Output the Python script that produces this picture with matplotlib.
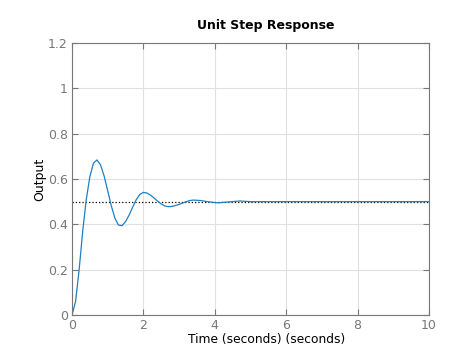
import matplotlib
matplotlib.use("Agg")
import matplotlib.pyplot as plt

# step response
time = [0, 0.1, 0.2, 0.3, 0.4, 0.5, 0.6, 0.7, 0.8, 0.9, 1.0, 1.1, 1.2, 1.3, 1.4,
        1.5, 1.6, 1.7, 1.8, 1.9, 2.0, 2.1, 2.2, 2.3, 2.4, 2.5, 2.6, 2.7, 2.8, 2.9,
        3.0, 3.1, 3.2, 3.3, 3.4, 3.6, 3.8, 4.0, 4.1, 4.4, 4.7, 5.0, 6.0, 7.0, 8.0,
        9.0, 10.0]
output = [0, 0.06, 0.2, 0.37, 0.51, 0.61, 0.67, 0.684, 0.662, 0.613, 0.548, 0.482,
          0.428, 0.397, 0.394, 0.412, 0.441, 0.476, 0.509, 0.532, 0.541, 0.538,
          0.529, 0.516, 0.502, 0.490, 0.481, 0.478, 0.479, 0.483, 0.488, 0.494,
          0.500, 0.505, 0.507, 0.505, 0.500, 0.496, 0.495, 0.499, 0.503, 0.500,
          0.500, 0.500, 0.500, 0.500, 0.500]
final_value = 0.5

fig = plt.figure(figsize=(4.74, 3.55), dpi=100)
ax = fig.add_axes([72 / 474, 40 / 355, 357 / 474, 272 / 355])

ax.plot([0, 10], [final_value, final_value], color="black", linestyle=":", linewidth=0.9)
ax.plot(time, output, color="#1f7fc4", linewidth=0.9)

ax.set_xlim(0, 10)
ax.set_ylim(0, 1.2)
ax.set_xticks([0, 2, 4, 6, 8, 10])
ax.set_yticks([0, 0.2, 0.4, 0.6, 0.8, 1, 1.2])
ax.set_yticklabels(["0", "0.2", "0.4", "0.6", "0.8", "1", "1.2"])
ax.grid(True, color="#e0e0e0", linewidth=0.8)
ax.set_axisbelow(True)
ax.tick_params(direction="in", top=True, right=True, length=4, pad=3,
               colors="#777777", labelsize=9, labelcolor="#777777")
for s in ax.spines.values():
    s.set_color("#777777")
    s.set_linewidth(0.8)

fig.text(266 / 474, 1 - 25 / 355, "Unit Step Response", fontsize=9,
         fontweight="bold", ha="center", va="center")
ax.set_ylabel("Output", fontsize=9, labelpad=1)
fig.text(267 / 474, 1 - 340 / 355, "Time (seconds) (seconds)", fontsize=8.8,
         ha="center", va="center")

fig.savefig("out.png", dpi=100)
